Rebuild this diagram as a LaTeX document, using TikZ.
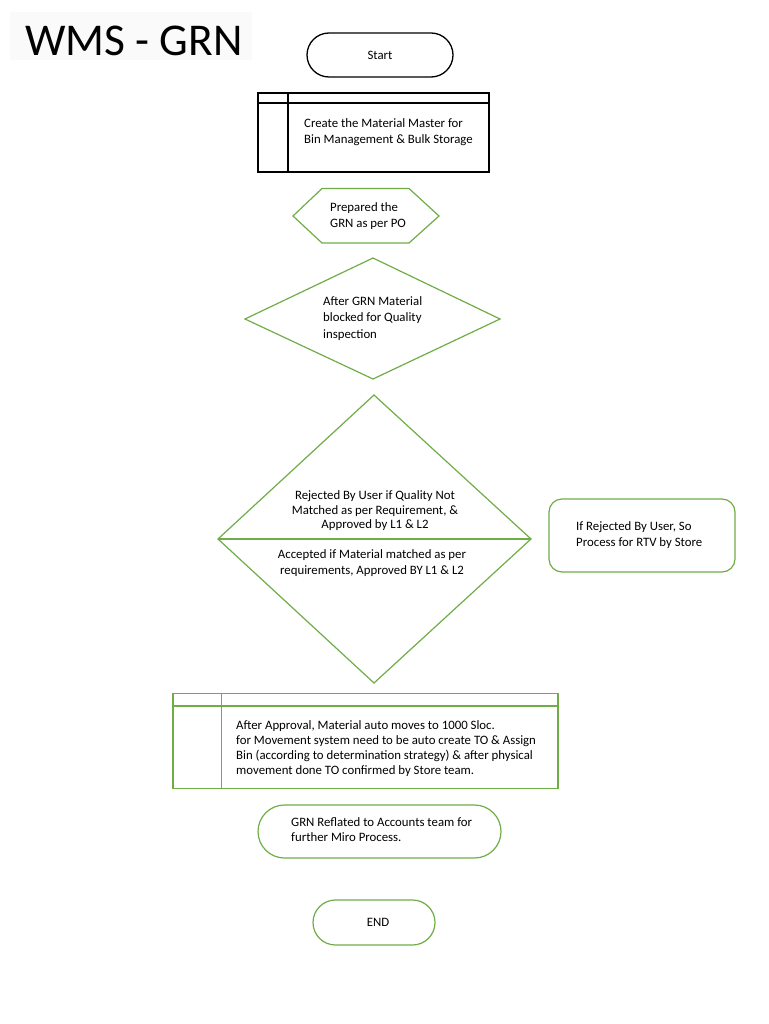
\documentclass[tikz,border=0pt]{standalone}
\usepackage{fontspec}
\setmainfont{Carlito}
\usetikzlibrary{shapes.misc,shapes.geometric}
\definecolor{offgreen}{HTML}{70AD47}
\tikzset{
  txt/.style={font=\fontsize{12.8}{15.5}\selectfont, inner sep=0pt, align=left},
  ctxt/.style={font=\fontsize{12.8}{15.5}\selectfont, inner sep=0pt, align=center},
  gline/.style={draw=offgreen, line width=1.2pt},
  bline/.style={draw=black, line width=1.3pt},
  stadium/.style={rounded rectangle, inner sep=0pt},
}
\begin{document}
\begin{tikzpicture}[x=1pt,y=-1pt]
\fill[white] (0,0) rectangle (768,1024);
\useasboundingbox (0,0) rectangle (768,1024);
% title
\fill[black!2] (10,12) rectangle (252,60);
\node[font=\fontsize{45.5}{45}\selectfont, inner sep=0pt, anchor=base west] (title) at (25,56) {WMS - GRN};
% start
\node[stadium, bline, minimum width=146, minimum height=44, font=\fontsize{12.8}{14}\selectfont] (start) at (380,55) {Start};
% material master box
\node[bline, rectangle, minimum width=231, minimum height=79, inner sep=0pt] (mm) at (373.5,132.5) {};
\draw[black, line width=2pt] (mm.north west |- 0,103.5) -- (mm.north east |- 0,103.5);
\draw[bline] (288,94) -- (mm.south west -| 288,0);
\node[txt, anchor=west, font=\fontsize{12.8}{16}\selectfont] (mmt) at (304,132.5) {Create the Material Master for\\Bin Management \& Bulk Storage};
% hexagon
\draw[gline] (293,216) coordinate (hexl) -- (322,188.5) -- (409,188.5) -- (439,216) coordinate (hexr) -- (409,243) -- (322,243) -- cycle;
\node[txt, anchor=west, font=\fontsize{12.8}{16.5}\selectfont] (hext) at (330,216) {Prepared the\\GRN as per PO};
% diamond 1
\draw[gline] (245,319) coordinate (d1l) -- (373,258) coordinate (d1t) -- (500,319) coordinate (d1r) -- (373,379) coordinate (d1b) -- cycle;
\node[txt, anchor=west, font=\fontsize{12.8}{16.5}\selectfont] (d1t) at (323,318.5) {After GRN Material\\blocked for Quality\\inspection};
% diamond 2
\draw[gline] (218,539) coordinate (d2l) -- (374,395) coordinate (d2t) -- (531,539) coordinate (d2r) -- (374,683) coordinate (d2b) -- cycle;
\draw[gline] (d2l) -- (d2r);
\node[ctxt, font=\fontsize{12.8}{14.5}\selectfont] (d2up) at (375,511) {Rejected By User if Quality Not\\Matched as per Requirement, \&\\Approved by L1 \& L2};
\node[ctxt, font=\fontsize{12.8}{16.5}\selectfont] (d2lo) at (372,563) {Accepted if Material matched as per\\requirements, Approved BY L1 \& L2};
% RTV box
\node[gline, rectangle, rounded corners=13, minimum width=186, minimum height=73, inner sep=0pt] (rtv) at (642,535.5) {};
\node[txt, anchor=west, font=\fontsize{12.8}{16}\selectfont] (rtvt) at (576,535.5) {If Rejected By User, So\\Process for RTV by Store};
% big green box
\node[draw=offgreen, line width=1.8pt, rectangle, minimum width=385, minimum height=95, inner sep=0pt] (mv) at (365.5,741) {};
\draw[offgreen, line width=2pt] (173,705.5) -- (558,705.5);
\draw[offgreen, line width=1.2pt] (221.5,694) -- (221.5,788);
\node[txt, anchor=west, font=\fontsize{12.8}{15}\selectfont] (mvt) at (236,749) {After Approval, Material auto moves to 1000 Sloc.\\for Movement system need to be auto create TO \& Assign\\Bin (according to determination strategy) \& after physical\\movement done TO confirmed by Store team.};
% GRN reflated
\node[stadium, gline, minimum width=243, minimum height=53] (acc) at (379.5,831.5) {};
\node[txt, anchor=west, font=\fontsize{12.8}{15}\selectfont] (acct) at (291,830) {GRN Reflated to Accounts team for\\further Miro Process.};
% END
\node[stadium, gline, minimum width=122, minimum height=45, font=\fontsize{12.8}{14}\selectfont] (endn) at (374,922.5) {\hspace*{8pt}END};
\end{tikzpicture}
\end{document}
